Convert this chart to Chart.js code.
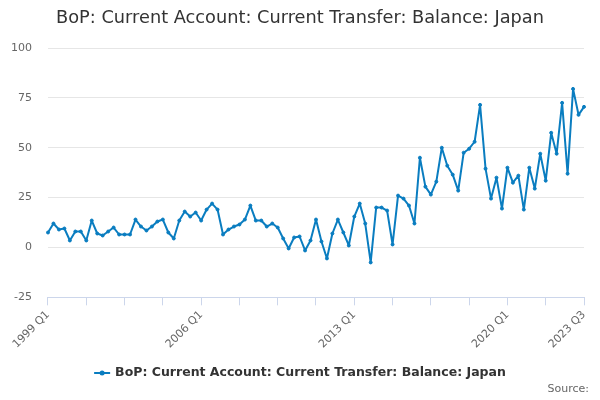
<!DOCTYPE html>
<html>
<head>
<meta charset="utf-8">
<script src="https://cdn.jsdelivr.net/npm/chart.js@4/dist/chart.umd.min.js"></script>
<style>
  html, body { margin: 0; padding: 0; background: #fff; }
  #wrap { width: 600px; height: 400px; }
</style>
</head>
<body>
<div id="wrap"><canvas id="chart" width="600" height="400"></canvas></div>
<script>
// quarterly labels, 1999 Q1 .. 2023 Q3
const years = [];
for (let y = 1999; y <= 2023; y++) years.push(y);
const quarters = [];
years.forEach(y => ['Q1', 'Q2', 'Q3', 'Q4'].forEach(q => quarters.push(y + ' ' + q)));
quarters.length = 99;

// values
const balance = [
  7.5, 12, 9, 9.5,      3.5, 8, 8, 3.5,       13.5, 7, 6, 8,
  10, 6.5, 6.5, 6.5,    14, 10.5, 8.5, 10.5,  13, 14, 7.5, 4.5,
  13.5, 18, 15.5, 17.5, 13.5, 19, 22, 19,     6.5, 9, 10.5, 11.5,
  14, 21, 13.5, 13.5,   10.5, 12, 10, 4.5,    -0.5, 5, 5.5, -1.5,
  3.5, 14, 3, -5.5,     7, 14, 7.5, 1,        15.5, 22, 12, -7.5,
  20, 20, 18.5, 1.5,    26, 24.5, 21, 12,     45, 30.5, 26.5, 33,
  50, 41, 36.5, 28.5,   47.5, 49.5, 53, 71.5, 39.5, 24.5, 35, 19.5,
  40, 32.5, 36, 19,     40, 29.5, 47, 33.5,   57.5, 47, 72.5, 37,
  79.5, 66.5, 70.5
];

const yTicks = [-25, 0, 25, 50, 75, 100];
const seriesName = 'BoP: Current Account: Current Transfer: Balance: Japan';
const chartTitle = 'BoP: Current Account: Current Transfer: Balance: Japan';
const sourceText = 'Source:';

const LINE = '#0a7dc0';
const AXIS = '#ccd6eb';
const GRID = '#e6e6e6';
const FONT = '"DejaVu Sans", sans-serif';

// title, legend and source are centred on the whole canvas, not on the
// (lopsided) chart box, so they're drawn here instead of by the plugins
const frameText = {
  id: 'frameText',
  afterDraw(chart) {
    const ctx = chart.ctx;
    const W = chart.width;
    ctx.save();
    ctx.textBaseline = 'middle';

    ctx.fillStyle = '#333333';
    ctx.font = '17.75px ' + FONT;
    ctx.textAlign = 'center';
    ctx.fillText(chartTitle, W / 2, 18);

    ctx.font = 'bold 12.5px ' + FONT;
    const tw = ctx.measureText(seriesName).width;
    const sym = 16, gap = 5;
    const x0 = W / 2 - (sym + gap + tw) / 2;
    const ly = 373;
    ctx.strokeStyle = LINE;
    ctx.lineWidth = 2;
    ctx.beginPath();
    ctx.moveTo(x0, ly);
    ctx.lineTo(x0 + sym, ly);
    ctx.stroke();
    ctx.fillStyle = LINE;
    ctx.beginPath();
    ctx.arc(x0 + sym / 2, ly, 2.5, 0, Math.PI * 2);
    ctx.fill();
    ctx.fillStyle = '#333333';
    ctx.textAlign = 'left';
    ctx.fillText(seriesName, x0 + sym + gap, ly);

    ctx.fillStyle = '#666666';
    ctx.font = '11px ' + FONT;
    ctx.textAlign = 'right';
    ctx.fillText(sourceText, W - 11, 389);
    ctx.restore();
  },
};

new Chart(document.getElementById('chart'), {
  type: 'line',
  data: {
    labels: quarters,
    datasets: [{
      label: seriesName,
      data: balance,
      borderColor: LINE,
      backgroundColor: LINE,
      borderWidth: 2,
      borderJoinStyle: 'round',
      pointRadius: 1.5,
      pointBorderWidth: 1,
      pointHoverRadius: 2,
      tension: 0,
    }],
  },
  plugins: [frameText],
  options: {
    responsive: false,
    animation: false,
    layout: { padding: { left: -5, right: 16, top: 48, bottom: 46 } },
    plugins: {
      title: { display: false },
      legend: { display: false },
      tooltip: { enabled: false },
    },
    scales: {
      x: {
        offset: false,
        grid: { display: true, drawOnChartArea: false, drawTicks: true, tickLength: 8, color: AXIS },
        border: { color: AXIS },
        ticks: {
          autoSkip: false,
          maxRotation: 45,
          minRotation: 45,
          color: '#666666',
          font: { family: FONT, size: 11 },
          callback: function (v, i) {
            if (i % 7 !== 0) return null;
            if (i % 28 === 0 || i === quarters.length - 1) return quarters[i];
            return '';
          },
        },
      },
      y: {
        min: yTicks[0],
        max: yTicks[yTicks.length - 1],
        afterBuildTicks: axis => { axis.ticks = yTicks.map(v => ({ value: v })); },
        grid: { color: GRID, drawTicks: false },
        border: { display: false },
        ticks: {
          color: '#666666',
          padding: 16,
          font: { family: FONT, size: 11 },
        },
      },
    },
  },
});
</script>
</body>
</html>
